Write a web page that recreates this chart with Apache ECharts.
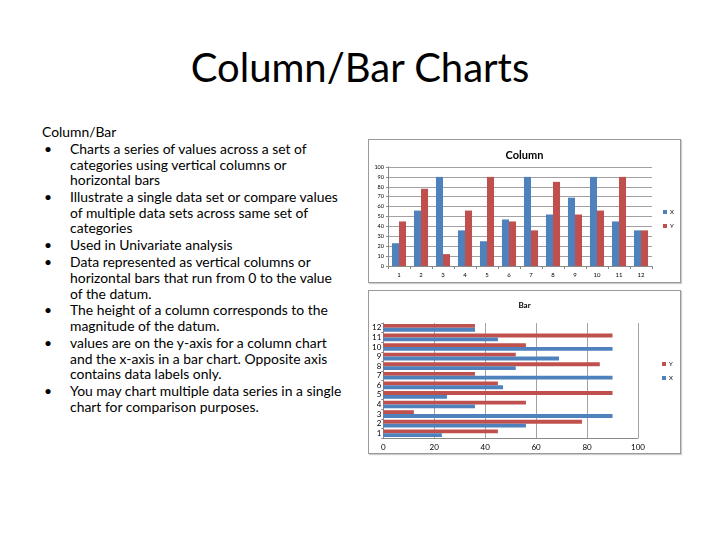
<!DOCTYPE html>
<html>
<head>
<meta charset="utf-8">
<script src="https://cdn.jsdelivr.net/npm/echarts@6/dist/echarts.min.js"></script>
<style>
    html, body { margin: 0; padding: 0; background: #fff; }
    body { width: 720px; height: 540px; position: relative; overflow: hidden; font-family: Lato, "Open Sans", sans-serif; color: #000; }
    #title { position: absolute; left: 0; top: 43px; width: 720px; text-align: center; font-size: 40px; line-height: 48px; }
    #text { position: absolute; left: 42px; top: 124px; width: 305px; font-size: 13.9px; line-height: 15.6px; }
    #text ul { margin: 0; padding: 0; list-style: none; }
    #text li { position: relative; padding-left: 28px; margin-top: 1.4px; }
    #text li::before { content: "\2022"; position: absolute; left: 2px; }
    .frame { position: absolute; left: 368px; width: 311px; border: 1px solid #9a9a9a; box-shadow: 1px 1px 1px #ccc; background: #fff; }
    #col { top: 139px; height: 142px; }
    #bar { top: 290px; height: 162px; }
</style>
</head>
<body>
<div id="title">Column/Bar Charts</div>
<div id="text">
    <div>Column/Bar</div>
    <ul>
        <li>Charts a series of values across a set of categories using vertical columns or horizontal bars</li>
        <li>Illustrate a single data set or compare values of multiple data sets across same set of categories</li>
        <li>Used in Univariate analysis</li>
        <li>Data represented as vertical columns or horizontal bars that run from 0 to the value of the datum.</li>
        <li>The height of a column corresponds to the magnitude of the datum.</li>
        <li>values are on the y-axis for a column chart and the x-axis in a bar chart. Opposite axis contains data labels only.</li>
        <li>You may chart multiple data series in a single chart for comparison purposes.</li>
    </ul>
</div>
<div id="col" class="frame"></div>
<div id="bar" class="frame"></div>
<script>
// values
const categories = ["1", "2", "3", "4", "5", "6", "7", "8", "9", "10", "11", "12"];
const xValues = [23, 56, 90, 36, 25, 47, 90, 52, 69, 90, 45, 36];
const yValues = [45, 78, 12, 56, 90, 45, 36, 85, 52, 56, 90, 36];
const valueTicks = { colMax: 100, colStep: 10, barMax: 100, barStep: 20 };

const BLUE = "#4F81BD";
const RED = "#C0504D";
const GRID = "#8a8a8a";
const FONT = "Lato, sans-serif";

const colChart = echarts.init(document.getElementById("col"), null, { renderer: "canvas" });
colChart.setOption({
    animation: false,
    title: {
        text: "Column", left: "center", top: 5,
        textStyle: { fontFamily: FONT, fontSize: 11, fontWeight: "bold", color: "#000" },
    },
    legend: {
        data: ["X", "Y"], orient: "vertical", left: 294, top: 69,
        itemWidth: 4, itemHeight: 4, itemGap: 8,
        icon: "rect", padding: 0,
        textStyle: { fontFamily: FONT, fontSize: 6, color: "#000", padding: [0, 0, 0, -2] },
    },
    grid: { left: 19, right: 28, top: 27, bottom: 16, containLabel: false },
    xAxis: {
        type: "category", data: categories,
        axisLine: { lineStyle: { color: GRID } },
        axisTick: { show: true, lineStyle: { color: GRID }, length: 3 },
        axisLabel: { fontFamily: FONT, fontSize: 6, color: "#000", margin: 6 },
    },
    yAxis: {
        type: "value", min: 0, max: valueTicks.colMax, interval: valueTicks.colStep,
        axisLine: { show: true, lineStyle: { color: GRID } },
        axisTick: { show: true, lineStyle: { color: GRID }, length: 2 },
        axisLabel: { fontFamily: FONT, fontSize: 5.5, color: "#000", margin: 4 },
        splitLine: { lineStyle: { color: GRID, width: 0.8 } },
    },
    series: [
        { name: "X", type: "bar", data: xValues, itemStyle: { color: BLUE }, barGap: "0%", barCategoryGap: "36%" },
        { name: "Y", type: "bar", data: yValues, itemStyle: { color: RED } },
    ],
});

const barChart = echarts.init(document.getElementById("bar"), null, { renderer: "canvas" });
barChart.setOption({
    animation: false,
    title: {
        text: "Bar", left: "center", top: 5,
        textStyle: { fontFamily: FONT, fontSize: 8, fontWeight: "bold", color: "#000" },
    },
    legend: {
        data: ["Y", "X"], orient: "vertical", left: 293, top: 70,
        itemWidth: 4, itemHeight: 4, itemGap: 8,
        icon: "rect", padding: 0,
        textStyle: { fontFamily: FONT, fontSize: 6, color: "#000", padding: [0, 0, 0, -2] },
    },
    grid: { left: 14, right: 42, top: 32, bottom: 15, containLabel: false },
    xAxis: {
        type: "value", min: 0, max: valueTicks.barMax, interval: valueTicks.barStep,
        axisLine: { show: true, lineStyle: { color: GRID } },
        axisTick: { show: false },
        axisLabel: { fontFamily: FONT, fontSize: 8, color: "#000", margin: 5 },
        splitLine: { lineStyle: { color: GRID, width: 0.8 } },
    },
    yAxis: {
        type: "category", data: categories,
        axisLine: { lineStyle: { color: GRID } },
        axisTick: { show: true, lineStyle: { color: GRID }, length: 2 },
        axisLabel: { fontFamily: FONT, fontSize: 8, color: "#000", margin: 2, interval: 0 },
    },
    // in a horizontal bar chart the first series sits on top of each band
    series: [
        { name: "Y", type: "bar", data: yValues, itemStyle: { color: RED }, barGap: "0%", barCategoryGap: "20%" },
        { name: "X", type: "bar", data: xValues, itemStyle: { color: BLUE } },
    ],
});
</script>
</body>
</html>
